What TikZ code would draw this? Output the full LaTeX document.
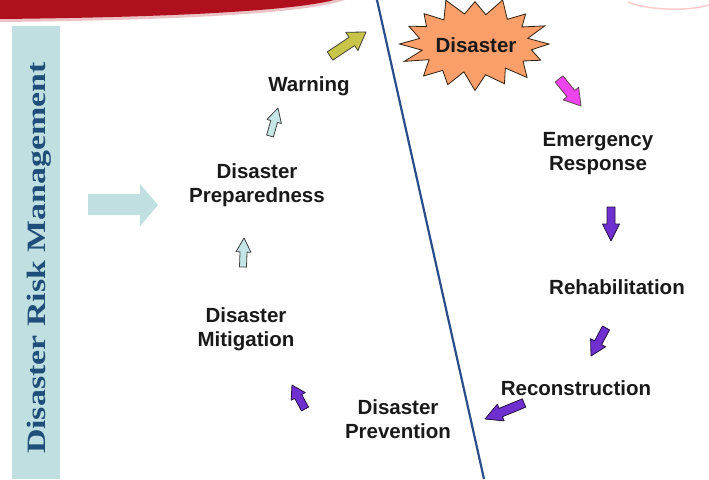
\documentclass[tikz,border=0pt]{standalone}
\usepackage{fontspec}
\setmainfont{Liberation Sans}
\newfontfamily\titlefont{Liberation Serif}
\definecolor{barblue}{HTML}{BFDFE1}
\definecolor{titleblue}{HTML}{1F4E7A}
\definecolor{swoosh}{HTML}{B0101E}
\definecolor{divline}{HTML}{2A4E8A}
\definecolor{burstfill}{HTML}{FA9E6A}
\definecolor{olivefill}{HTML}{C8C448}
\definecolor{magfill}{HTML}{EE44EE}
\definecolor{purpfill}{HTML}{7030D0}
\definecolor{lbfill}{HTML}{C4E6E6}
\tikzset{
  lbl/.style={font=\fontsize{20.5}{24}\selectfont\bfseries, align=center, inner sep=0pt, text=black!90},
  olivearrow/.style={fill=olivefill, draw=black!75, line width=0.8pt, line join=round},
  magarrow/.style={fill=magfill, draw=black!70!magenta, line width=0.8pt, line join=round},
  purparrow/.style={fill=purpfill, draw=black!70!purpfill, line width=0.8pt, line join=round},
  lbarrow/.style={fill=lbfill, draw=black!75, line width=0.8pt, line join=round},
  burst/.style={fill=burstfill, draw=black!75!brown, line width=0.8pt, line join=miter}
}
% block arrow: style, x1,y1 (tail), x2,y2 (tip), body half width, head half width, head length
\newcommand{\barrow}[8]{%
  \pgfmathsetmacro\bang{atan2(#3-#5,#4-#2)}%
  \pgfmathsetmacro\blen{veclen(#4-#2,#5-#3)}%
  \pgfmathsetmacro\bneck{\blen-#8}%
  \filldraw[#1,shift={(#2,#3)},rotate=\bang] (0,-#6) -- (\bneck,-#6) -- (\bneck,-#7) -- (\blen,0) -- (\bneck,#7) -- (\bneck,#6) -- (0,#6) -- cycle;}
\begin{document}
\begin{tikzpicture}[x=1pt,y=-1pt]
\useasboundingbox (0,0) rectangle (709,479);
\fill[white] (0,0) rectangle (709,479);
% red swoosh at top
\fill[swoosh!25] (0,0) -- (345,0) .. controls (310,12) and (200,20) .. (0,22) -- cycle;
\fill[swoosh] (0,0) -- (334,0) .. controls (300,9) and (200,17) .. (0,19) -- cycle;
% faint logo remnant top right
\draw[red!20, line width=1.5pt] (628,2) .. controls (650,11) and (690,11) .. (709,5);
% left title bar
\fill[barblue] (12,26) rectangle (60,479);
\node[rotate=90, anchor=base, inner sep=0pt, text=titleblue] (title) at (45,258)
  {\scalebox{1.28}[1]{\titlefont\bfseries\fontsize{26.5}{26}\selectfont Disaster Risk Management}};
% big light blue arrow
\fill[barblue] (88,194) -- (140,194) -- (140,184) -- (158,205) -- (140,226) -- (140,215) -- (88,215) -- cycle;
% dividing line
\coordinate (ltop) at (377,0);
\coordinate (lbot) at (484,479);
\draw[divline, line width=2.2pt] (ltop) -- (lbot);
% starburst
\begin{scope}[shift={(475,44)}]
\filldraw[burst] (0:{74} and {45})
  \foreach \i in {1,...,31} { -- ({\i*11.25}:{(74-18*mod(\i,2))*(1+0.04*sin(\i*137))} and {(45-15*mod(\i,2))*(1+0.06*cos(\i*97))}) } -- cycle;
\end{scope}
\node[lbl] (disaster) at (476,45) {Disaster};
% labels
\node[lbl] (warning) at (309,86) {Warning};
\node[lbl] (prep) at (257,185) {Disaster\\Preparedness};
\node[lbl] (mitig) at (246,329) {Disaster\\Mitigation};
\node[lbl] (prev) at (398,419) {Disaster\\Prevention};
\node[lbl] (recon) at (576,388) {Reconstruction};
\node[lbl] (rehab) at (617,287) {Rehabilitation};
\node[lbl] (emerg) at (598,154) {Emergency\\Response};
% block arrows
\barrow{olivearrow}{330}{56}{366}{32}{5}{11}{17}
\barrow{magarrow}{559}{79}{581}{106}{5}{10}{16}
\barrow{purparrow}{611}{207}{611}{241}{4}{8.5}{17}
\barrow{purparrow}{606}{328}{591}{356}{4}{8.5}{15}
\barrow{purparrow}{524}{403}{485}{419}{4.5}{9}{17}
\barrow{purparrow}{305}{409}{292}{385}{4}{8}{13}
\barrow{lbarrow}{243}{267}{244}{238}{3.5}{7.5}{14}
\barrow{lbarrow}{270}{136}{278}{108}{3.5}{7.5}{14}
\end{tikzpicture}
\end{document}
